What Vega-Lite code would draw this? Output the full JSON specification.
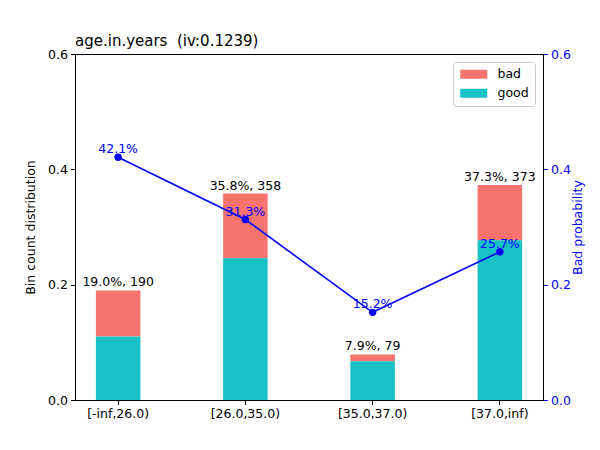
{
  "$schema": "https://vega.github.io/schema/vega-lite/v6.json",
  "width": 468,
  "height": 346,
  "autosize": {"type": "none"},
  "padding": {"left": 75, "top": 54, "right": 57, "bottom": 50},
  "background": "white",
  "config": {
    "font": "DejaVu Sans",
    "view": {"stroke": "black", "strokeWidth": 1},
    "axis": {
      "grid": false,
      "labelFont": "DejaVu Sans",
      "labelFontSize": 12.5,
      "titleFont": "DejaVu Sans",
      "titleFontSize": 12.5,
      "titleFontWeight": "normal",
      "domainColor": "black",
      "tickColor": "black",
      "labelColor": "black",
      "titleColor": "black",
      "tickSize": 4.5,
      "labelPadding": 3,
      "domainWidth": 1,
      "tickWidth": 1
    },
    "legend": {
      "labelFont": "DejaVu Sans",
      "labelFontSize": 12.5,
      "labelColor": "black"
    }
  },
  "title": {
    "text": "age.in.years \u00a0(iv:0.1239)",
    "anchor": "start",
    "frame": "group",
    "fontSize": 15,
    "fontWeight": "normal",
    "font": "DejaVu Sans",
    "color": "black",
    "offset": -1
  },
  "datasets": {
    "bins": [
      {"bin": "[-inf,26.0)", "count": 190, "count_distr": 0.19, "badprob": 0.421, "good": 0.11, "bad": 0.08},
      {"bin": "[26.0,35.0)", "count": 358, "count_distr": 0.358, "badprob": 0.313, "good": 0.246, "bad": 0.112},
      {"bin": "[35.0,37.0)", "count": 79, "count_distr": 0.079, "badprob": 0.152, "good": 0.067, "bad": 0.012},
      {"bin": "[37.0,inf)", "count": 373, "count_distr": 0.373, "badprob": 0.257, "good": 0.277, "bad": 0.096}
    ]
  },
  "data": {"name": "bins"},
  "encoding": {
    "x": {
      "field": "bin",
      "type": "ordinal",
      "sort": null,
      "scale": {"paddingInner": 0.65, "paddingOuter": 0.164},
      "axis": {"title": null, "labelAngle": 0}
    }
  },
  "layer": [
    {
      "layer": [
        {
          "transform": [{"fold": ["bad", "good"], "as": ["key", "distr"]}],
          "mark": {"type": "bar"},
          "encoding": {
            "y": {
              "field": "distr",
              "type": "quantitative",
              "stack": "zero",
              "scale": {"domain": [0, 0.6], "nice": false, "zero": true},
              "axis": {"title": "Bin count distribution", "orient": "left", "values": [0, 0.2, 0.4, 0.6], "format": ".1f", "titlePadding": 10}
            },
            "color": {
              "field": "key",
              "type": "nominal",
              "scale": {"domain": ["bad", "good"], "range": ["#F7746E", "#18C1C5"]},
              "legend": {
                "title": null,
                "orient": "top-right",
                "offset": 8,
                "padding": 6,
                "fillColor": "white",
                "strokeColor": "#cccccc",
                "cornerRadius": 3,
                "symbolType": "M-2.7,-0.9H2.7V0.9H-2.7Z",
                "symbolSize": 100,
                "symbolOffset": 8.5,
                "symbolStrokeWidth": 0,
                "symbolOpacity": 1,
                "labelOffset": 17.5,
                "rowPadding": 6
              }
            },
            "order": {"field": "key", "sort": "descending"}
          }
        },
        {
          "transform": [
            {"calculate": "format(datum.count_distr * 100, '.1f') + '%, ' + datum.count", "as": "bar_label"}
          ],
          "mark": {"type": "text", "baseline": "bottom", "align": "center", "dy": -1, "fontSize": 12.5, "font": "DejaVu Sans", "color": "black"},
          "encoding": {
            "y": {"field": "count_distr", "type": "quantitative", "axis": {"title": "Bin count distribution"}},
            "text": {"field": "bar_label", "type": "nominal"}
          }
        }
      ]
    },
    {
      "layer": [
        {
          "mark": {"type": "line", "color": "blue", "strokeWidth": 1.6},
          "encoding": {
            "y": {
              "field": "badprob",
              "type": "quantitative",
              "scale": {"domain": [0, 0.6], "nice": false, "zero": true},
              "axis": {
                "title": "Bad probability",
                "orient": "right",
                "values": [0, 0.2, 0.4, 0.6],
                "format": ".1f",
                "labelColor": "blue",
                "titleColor": "blue",
                "tickColor": "blue",
                "titleAngle": 270,
                "titleBaseline": "bottom",
                "titlePadding": 14
              }
            }
          }
        },
        {
          "mark": {"type": "point", "filled": true, "color": "blue", "size": 55, "opacity": 1},
          "encoding": {
            "y": {"field": "badprob", "type": "quantitative", "axis": {"title": "Bad probability"}}
          }
        },
        {
          "transform": [
            {"calculate": "format(datum.badprob * 100, '.1f') + '%'", "as": "prob_label"}
          ],
          "mark": {"type": "text", "baseline": "bottom", "align": "center", "dy": -1, "fontSize": 12.5, "font": "DejaVu Sans", "color": "blue"},
          "encoding": {
            "y": {"field": "badprob", "type": "quantitative", "axis": {"title": "Bad probability"}},
            "text": {"field": "prob_label", "type": "nominal"}
          }
        }
      ]
    }
  ],
  "resolve": {"scale": {"y": "independent"}}
}
